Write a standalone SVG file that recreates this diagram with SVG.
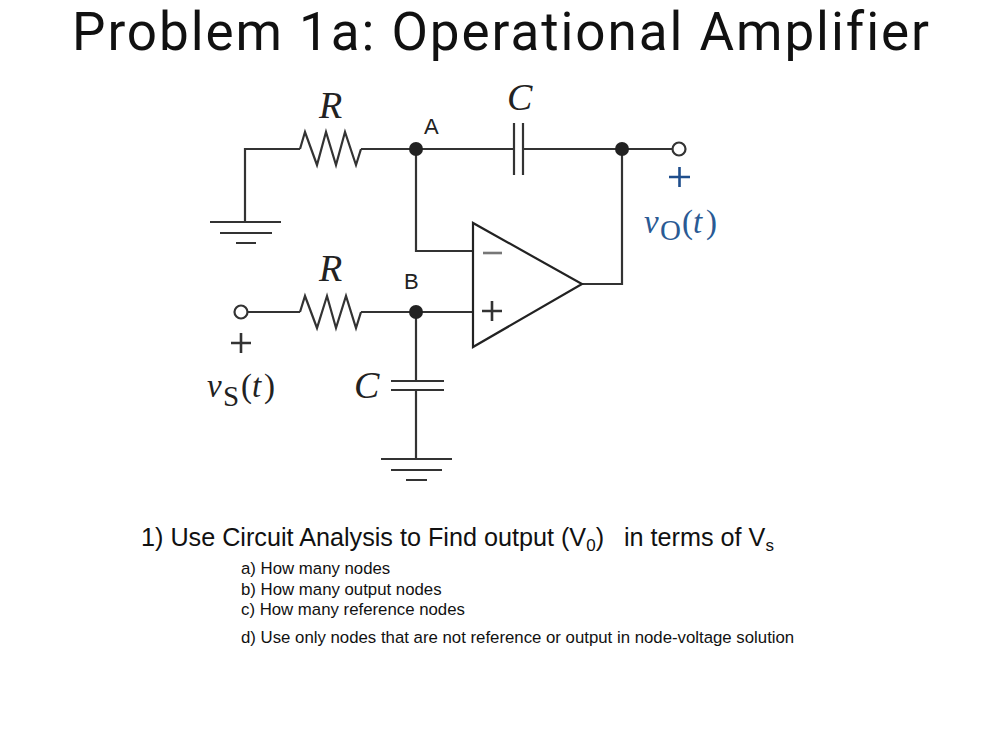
<svg xmlns="http://www.w3.org/2000/svg" width="999" height="748" viewBox="0 0 999 748">
<style>
.w{fill:none;stroke:#333;stroke-width:2.2;stroke-linejoin:miter}
.p{fill:none;stroke:#333;stroke-width:2.600}
.dot{fill:#222}
.open{fill:#fff;stroke:#333;stroke-width:2.200}
.sym{font-family:"Liberation Serif",serif;font-style:italic;font-size:38px;fill:#222}
.val{font-family:"Liberation Serif",serif;font-size:33px;fill:#222}
.lab{font-family:"Liberation Sans",sans-serif;font-size:22px;fill:#222}
.q{font-family:"Liberation Sans",sans-serif;font-size:16.800px;fill:#111}
.h{font-family:"Liberation Sans",sans-serif;font-size:25.200px;fill:#111}
.i{font-style:italic}
</style>
<rect width="999" height="748" fill="#fff"/>
<text id="title" x="72" y="50" font-family="Roboto,sans-serif" font-size="53" fill="#111" textLength="857" lengthAdjust="spacing" style="font-variant-ligatures:none">Problem 1a: Operational Amplifier</text>
<g id="connectors" class="w">
<path d="M245 222V149H300"/>
<path d="M361 149H514M523 149H672"/>
<path d="M416 149V251H473"/>
<path d="M582 284H622V149"/>
<path d="M248 312H300M361 312H473"/>
<path d="M416 312V381M416 390V459"/>
</g>
<g id="ground-top" class="w"><path d="M210 222H281M220 233H272M236 243H256"/></g>
<g id="ground-bottom" class="w"><path d="M381 459H452M391 470H442M406 480H427"/></g>
<g id="r-top"><path class="w" d="M300 149L305 132L317 165L326 132L336 165L345 132L356 165L361 149"/><text class="sym" x="319" y="118">R</text></g>
<g id="r-bottom"><path class="w" d="M300 312L305 296L317 328L327 296L336 328L346 296L356 328L361 312"/><text class="sym" x="319" y="281">R</text></g>
<g id="c-top"><path class="w" d="M514 123V175M523 123V175"/><text class="sym" x="507" y="110">C</text></g>
<g id="c-bottom"><path class="w" d="M391 381H444M391 390H444"/><text class="sym" x="354" y="398">C</text></g>
<g id="opamp"><path d="M473 223V347L582 284Z" fill="#fff" stroke="#222" stroke-width="2.200"/><path d="M483 253H502" fill="none" stroke="#777" stroke-width="2.600"/><path class="p" d="M482 311H502M492 301V321"/></g>
<g id="node-a"><circle class="dot" cx="416" cy="149" r="7"/><text class="lab" x="424" y="134">A</text></g>
<g id="node-b"><circle class="dot" cx="416" cy="312" r="7"/><text class="lab" x="404" y="289">B</text></g>
<g id="node-out"><circle class="dot" cx="622" cy="149" r="7"/></g>
<g id="terminal-out"><circle class="open" cx="679" cy="149" r="6.500"/><path d="M669 177H690M679.500 167V187" fill="none" stroke="#1f4e8c" stroke-width="2.600"/><text y="233" class="val" style="fill:#2a5a94"><tspan class="i" x="644">v</tspan><tspan font-size="29" x="660" dy="7">O</tspan><tspan x="682" dy="-7">(</tspan><tspan class="i" x="693">t</tspan><tspan x="706">)</tspan></text></g>
<g id="terminal-in"><circle class="open" cx="241" cy="312" r="6.500"/><path class="p" d="M231 343H251M241 333V353"/><text y="397" class="val"><tspan class="i" x="207">v</tspan><tspan font-size="29" x="223" dy="9">S</tspan><tspan x="241" dy="-9">(</tspan><tspan class="i" x="252">t</tspan><tspan x="264">)</tspan></text></g>
<g id="questions">
<text class="h" x="141" y="546">1) Use Circuit Analysis to Find output (V<tspan font-size="17" dy="5">0</tspan><tspan dy="-5">)</tspan></text>
<text class="h" x="624" y="546">in terms of V<tspan font-size="17" dy="5">s</tspan></text>
<text class="q" x="241" y="574">a) How many nodes</text>
<text class="q" x="241" y="595">b) How many output nodes</text>
<text class="q" x="241" y="615">c) How many reference nodes</text>
<text class="q" x="241" y="643">d) Use only nodes that are not reference or output in node-voltage solution</text>
</g>
</svg>
